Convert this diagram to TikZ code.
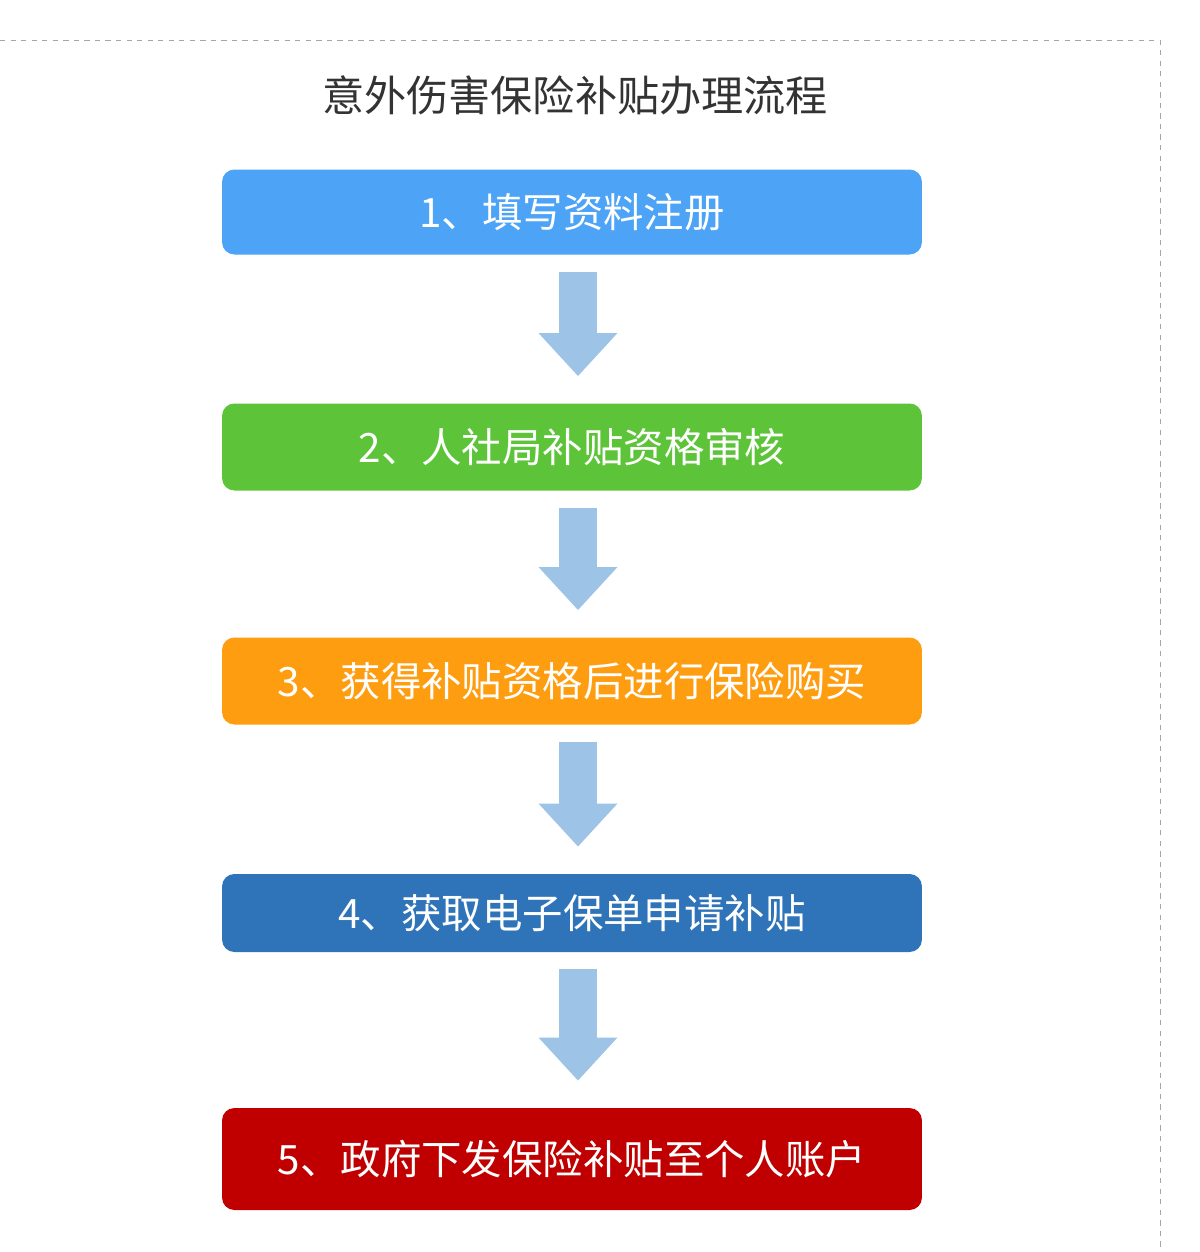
\documentclass[tikz,border=0pt]{standalone}
\usepackage{fontspec}
\setmainfont{Noto Sans CJK SC}
\usetikzlibrary{arrows.meta,positioning}
\definecolor{cstepa}{HTML}{4DA3F5}
\definecolor{cstepb}{HTML}{5DC43A}
\definecolor{cstepc}{HTML}{FF9D10}
\definecolor{cstepd}{HTML}{2F74B8}
\definecolor{cstepe}{HTML}{C00000}
\definecolor{carrow}{HTML}{9DC3E6}
\tikzset{
  stepbox/.style={rounded corners=7pt,minimum width=14cm,text=white,
    font=\fontsize{23}{26}\selectfont},
  flowarrow/.style={draw=carrow,line width=0.76cm,
    -{Triangle[length=0.86cm,width=1.52cm]}}
}
\begin{document}
\begin{tikzpicture}[x=0.02cm,y=-0.02cm]
\useasboundingbox (0,0) rectangle (1200,1252);
\draw[gray!70,dashed] (0,40) -- (1160,40) -- (1160,1252);

\node[text=black!80] (title) at (575,95) {\fontsize{24}{28}\selectfont 意外伤害保险补贴办理流程};

\node[stepbox,fill=cstepa,minimum height=1.7cm] (s1) at (572,212) {1、填写资料注册};
\node[stepbox,fill=cstepb,minimum height=1.74cm] (s2) at (572,447) {2、人社局补贴资格审核};
\node[stepbox,fill=cstepc,minimum height=1.74cm] (s3) at (572,681) {3、获得补贴资格后进行保险购买};
\node[stepbox,fill=cstepd,minimum height=1.56cm] (s4) at (572,913) {4、获取电子保单申请补贴};
\node[stepbox,fill=cstepe,minimum height=2.04cm] (s5) at (572,1159) {5、政府下发保险补贴至个人账户};

\foreach \a/\b in {s1/s2,s2/s3,s3/s4,s4/s5}
  \draw[flowarrow,shorten <=0.34cm,shorten >=0.54cm]
    ([xshift=0.12cm]\a.south) -- ([xshift=0.12cm]\b.north);
\end{tikzpicture}
\end{document}
